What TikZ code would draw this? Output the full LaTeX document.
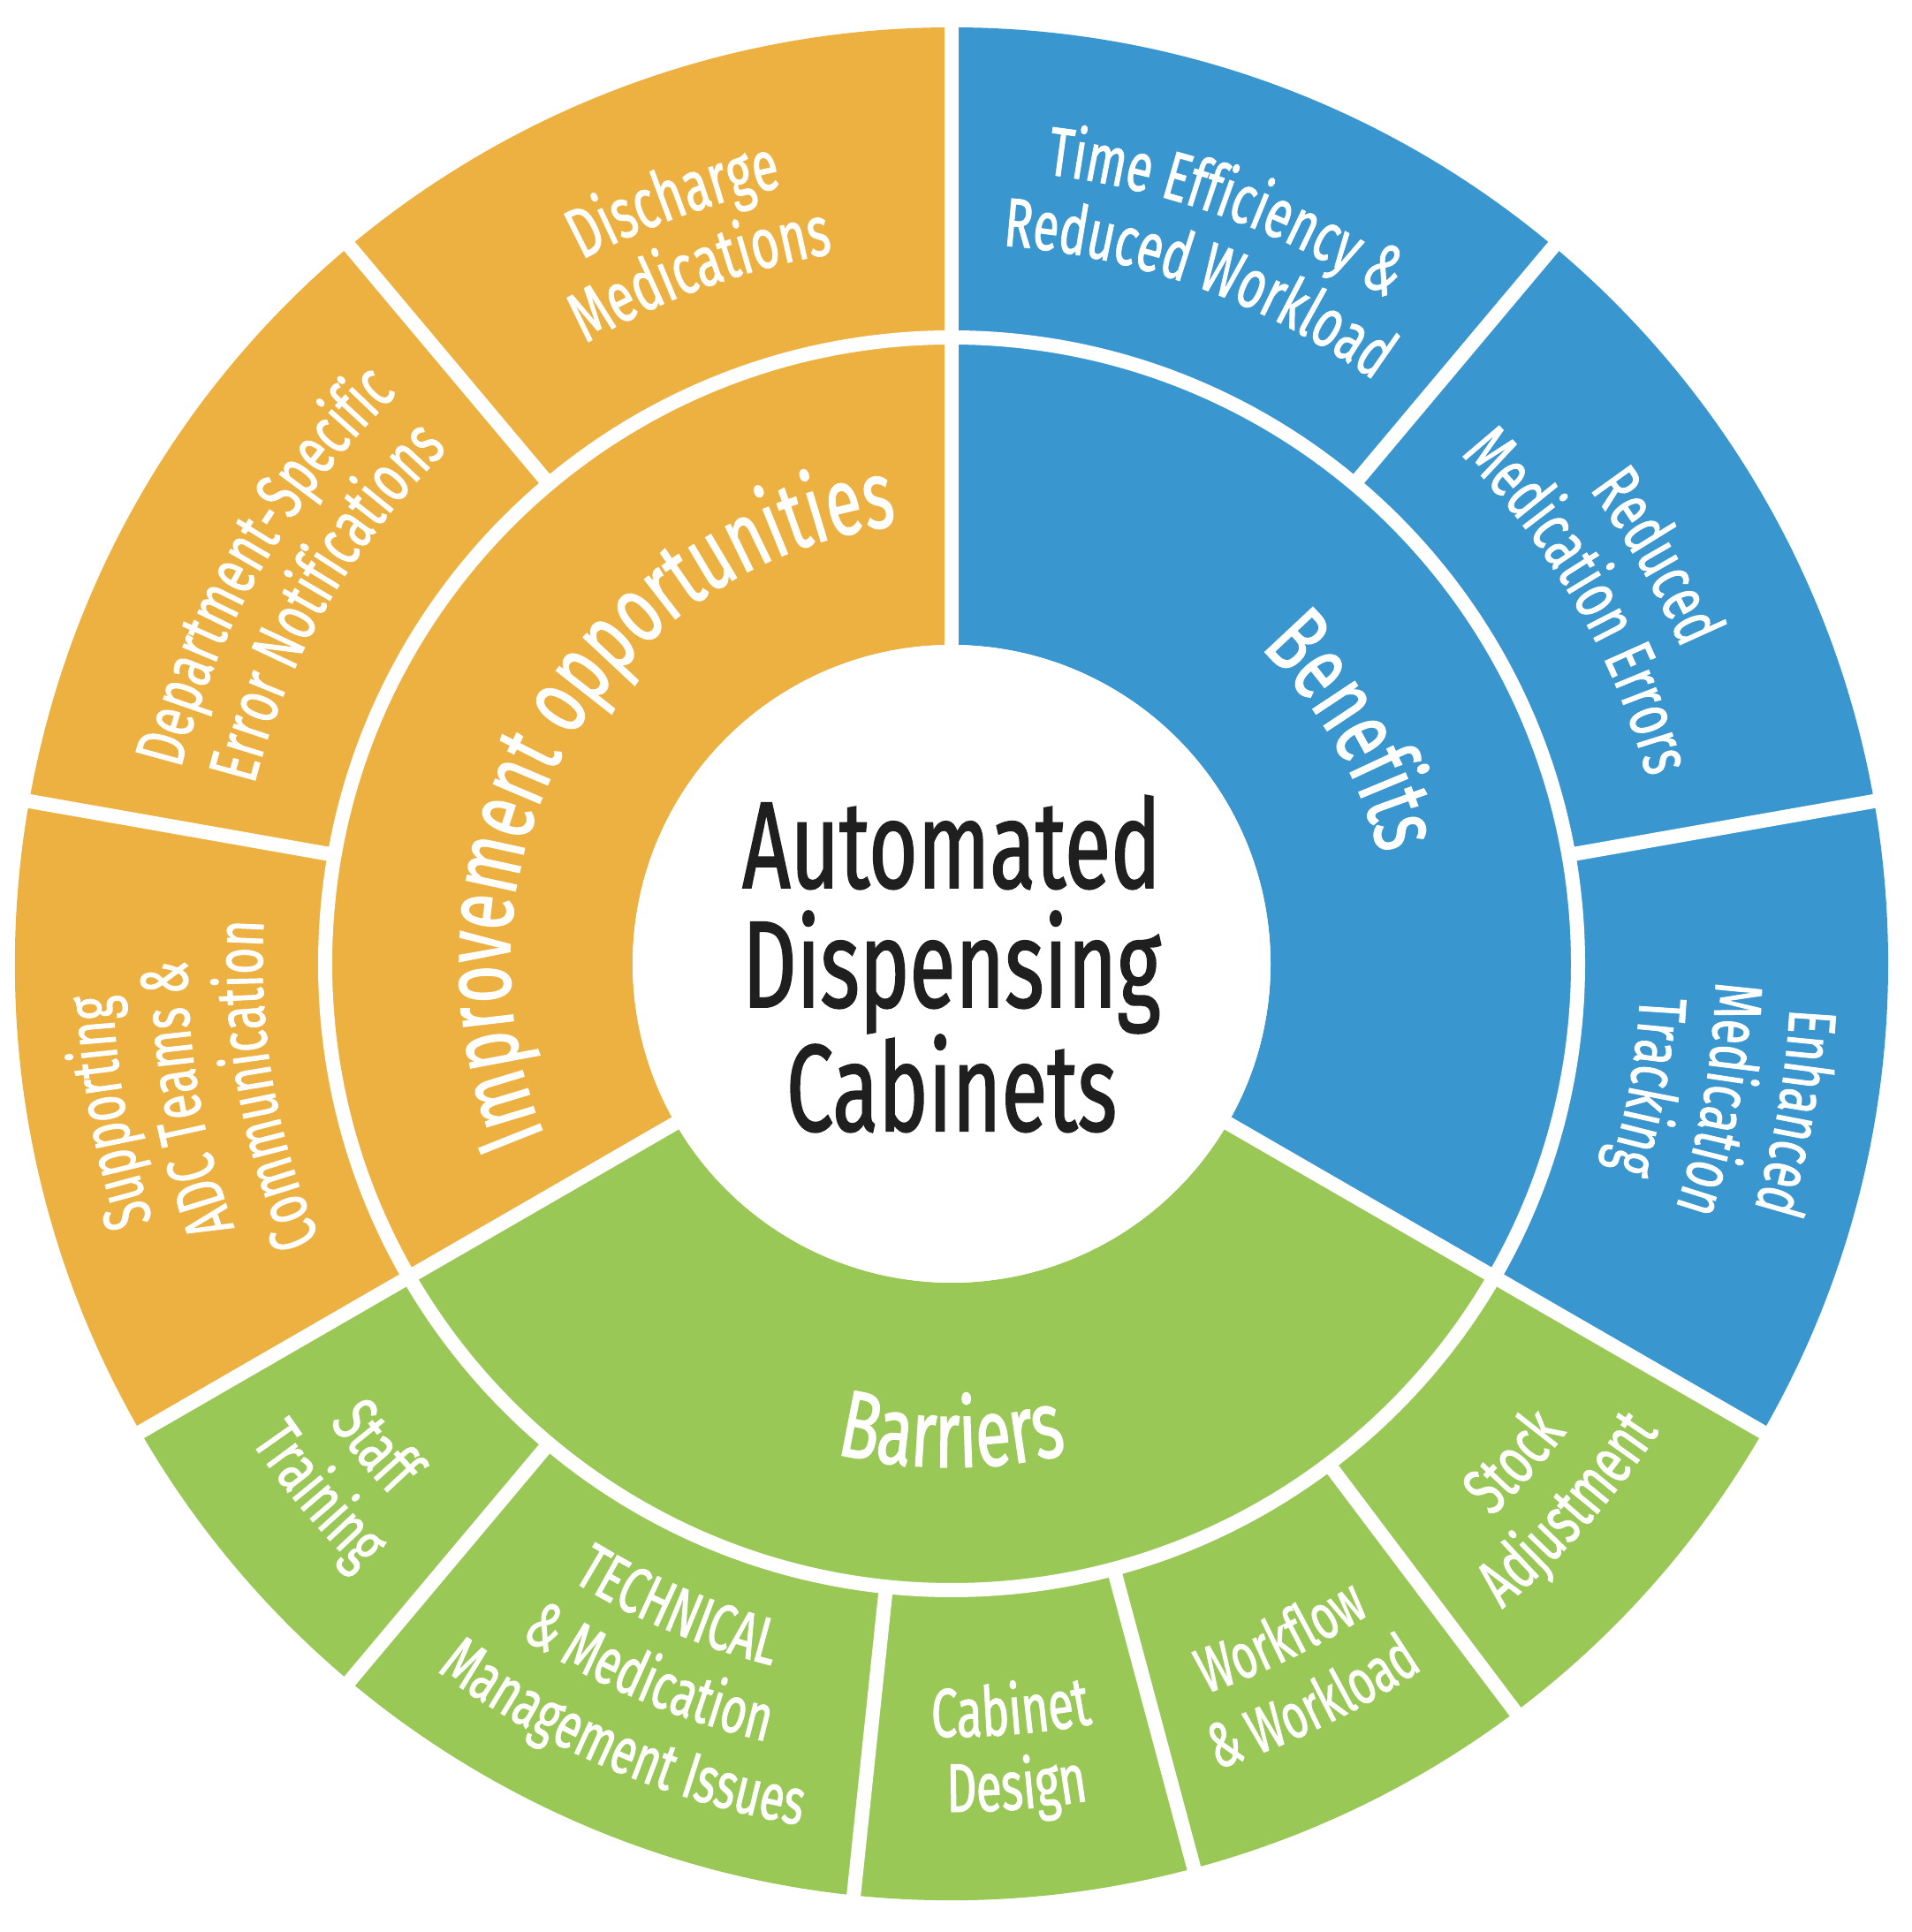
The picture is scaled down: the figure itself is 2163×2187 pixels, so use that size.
\documentclass[tikz,border=0pt]{standalone}
\usepackage{fontspec}
\setmainfont{Fira Sans}[FakeStretch=0.68,FakeBold=1.2]
\usetikzlibrary{decorations.text}
\definecolor{cO}{HTML}{EDB142}
\definecolor{cB}{HTML}{3A96CE}
\definecolor{cG}{HTML}{9AC857}
\newcommand{\sect}[5]{\fill[#1] (C) ++(#2:#4) arc[start angle=#2,end angle=#3,radius=#4] -- ++(#3:#5-#4) arc[start angle=#3,end angle=#2,radius=#5] -- cycle;}
\newcommand{\arctext}[5]{\path[decorate,decoration={text along path,text align=center,text color=white,text={|\fontsize{#4}{#4}\selectfont|#5}}] (C) ++(#2:#1) arc[start angle=#2,end angle=#3,radius=#1];}
\begin{document}
\begin{tikzpicture}[x=1pt,y=1pt,gap/.style={white,line width=16pt}]
\useasboundingbox (0,0) rectangle (2163,2187);
\coordinate (C) at (1077,1096);
% inner ring
\sect{cO}{90}{210}{361}{709}
\sect{cB}{-30}{90}{361}{709}
\sect{cG}{210}{330}{361}{709}
% outer ring
\sect{cO}{90}{210}{709}{1060}
\sect{cB}{-30}{90}{709}{1060}
\sect{cG}{210}{330}{709}{1060}
% gaps
\draw[gap] (C) circle[radius=709];
\foreach \a in {90,210,330} \draw[gap] (C) ++(\a:361) -- ++(\a:710);
\foreach \a in {130,170,50,10,230,264,285,307} \draw[gap] (C) ++(\a:709) -- ++(\a:360);
\fill[white] (C) circle[radius=361];
% center
\node[align=center,text=black!88,font=\fontsize{140}{135}\selectfont] (ctr) at (C) {Automated\\Dispensing\\Cabinets};
% inner labels
\arctext{500}{205}{95}{108}{Improvement opportunities}
\arctext{500}{88}{-28}{108}{Benefits}
\arctext{570}{215}{325}{108}{Barriers}
% orange outer
\arctext{900}{128}{92}{80}{Discharge}
\arctext{815}{128}{92}{80}{Medications}
\arctext{900}{168}{132}{78}{Department-Specific}
\arctext{815}{168}{132}{78}{Error Notifications}
\arctext{950}{208}{172}{76}{Supporting}
\arctext{865}{208}{172}{76}{ADC Teams {\&}}
\arctext{780}{208}{172}{76}{Communication}
% blue outer
\arctext{900}{88}{52}{78}{Time Efficiency {\&}}
\arctext{815}{88}{52}{78}{Reduced Workload}
\arctext{900}{48}{12}{78}{Reduced}
\arctext{815}{48}{12}{78}{Medication Errors}
\arctext{950}{8}{-28}{76}{Enhanced}
\arctext{865}{8}{-28}{76}{Medication}
\arctext{780}{8}{-28}{76}{Tracking}
% green outer
\arctext{875}{210.5}{229.5}{76}{Staff}
\arctext{960}{210.5}{229.5}{76}{Training}
\arctext{820}{231}{263}{74}{TECHNICAL}
\arctext{905}{231}{263}{74}{{\&} Medication}
\arctext{990}{231}{263}{74}{Management Issues}
\arctext{875}{265}{284}{78}{Cabinet}
\arctext{960}{265}{284}{78}{Design}
\arctext{875}{286}{306}{72}{Workflow}
\arctext{960}{286}{306}{72}{{\&} Workload}
\arctext{875}{308}{329}{76}{Stock}
\arctext{960}{308}{329}{76}{Adjustment}
\end{tikzpicture}
\end{document}
